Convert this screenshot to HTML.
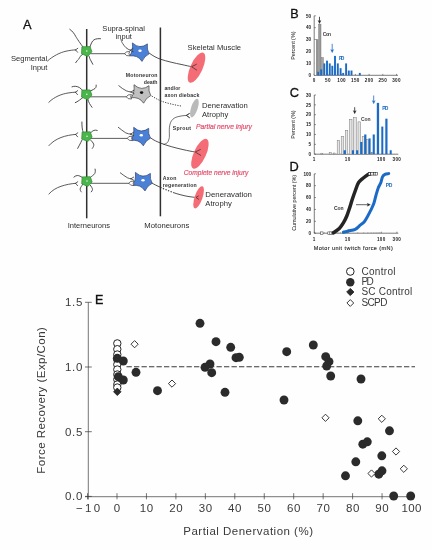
<!DOCTYPE html>
<html lang="en"><head><meta charset="utf-8"><title>Figure</title>
<style>
html,body{margin:0;padding:0;background:#fff;}
body{width:432px;height:550px;overflow:hidden;font-family:"Liberation Sans",Arial,sans-serif;}
svg{display:block;}
</style></head><body>
<svg width="432" height="550" viewBox="0 0 432 550">
<rect width="432" height="550" fill="#fefefe"/>
<g id="panelA">
<text x="23" y="28.5" font-family="Liberation Sans, Arial, sans-serif" font-size="12.8" fill="#111" stroke="#111" stroke-width="0.3">A</text>
<line x1="86.7" y1="29" x2="86.7" y2="218.3" stroke="#303030" stroke-width="1.5"/>
<line x1="160.4" y1="27.5" x2="160.4" y2="216.3" stroke="#303030" stroke-width="1.5"/>
<g transform="translate(86.5,51)">
<path d="M-3,-3.3 C-5,-6 -6.5,-8 -7.5,-9.5 C-9.5,-12.5 -9.8,-13 -10.8,-14.6 C-12,-16.8 -13.5,-19.5 -16.7,-21.7" stroke="#444" stroke-width="0.95" fill="none" stroke-linecap="round" stroke-linejoin="round" />
<path d="M3.2,-3.5 C4.5,-7 5.5,-10 7.5,-11.2 C9.5,-12.3 12,-12.5 14,-12.3" stroke="#444" stroke-width="0.95" fill="none" stroke-linecap="round" stroke-linejoin="round" />
<path d="M-3.8,3.3 C-5,4.5 -6.5,5 -6.9,6.5 C-7.3,8 -8.5,8.5 -9,9.3 C-9.7,10.3 -10.3,11 -10.8,11.7" stroke="#444" stroke-width="0.95" fill="none" stroke-linecap="round" stroke-linejoin="round" />
<path d="M2.5,5 C3,6.5 3.2,7.5 3.7,8.4 C4.6,10.2 5.5,12 6.3,13.3" stroke="#444" stroke-width="0.95" fill="none" stroke-linecap="round" stroke-linejoin="round" />
</g>
<path d="M47.5,61 C53,56 60,52.5 66,51.2 C70,50.3 73,50 75.6,49.9" stroke="#333" stroke-width="0.8" fill="none" stroke-linecap="round" stroke-linejoin="round" />
<path d="M75.6,49.9 l2.2,-1.6 M75.6,49.9 l2,2.4" stroke="#333" stroke-width="0.8" fill="none" stroke-linecap="round" stroke-linejoin="round" />
<path d="M90.5,53.7 L126.3,53.7" stroke="#333" stroke-width="0.8" fill="none" stroke-linecap="round" stroke-linejoin="round" />
<path d="M-4.6,-4.2 L3.6,-4.4 L5.4,0.8 L1.2,5.4 L-5,2.8Z" transform="translate(86.5,51)" fill="#4ab54a" stroke="#2f8a2f" stroke-width="0.7" stroke-linejoin="round"/>
<circle cx="86.8" cy="51" r="0.75" fill="#eaffea"/>
<g transform="translate(86.5,94.3)">
<path d="M-3.3,-3.3 C-4.5,-4.5 -5.5,-5.8 -7,-6.7 C-8.5,-7.6 -10,-8 -11.2,-8 C-12.5,-8 -13.6,-7.8 -14.5,-7.5" stroke="#444" stroke-width="0.95" fill="none" stroke-linecap="round" stroke-linejoin="round" />
<path d="M3.8,-3.3 C5,-4 6.2,-4.3 7.2,-5 C8.3,-5.7 9,-6 9.3,-6.8 C9.7,-7.6 9.8,-8.4 9.7,-9.2" stroke="#444" stroke-width="0.95" fill="none" stroke-linecap="round" stroke-linejoin="round" />
<path d="M-3.7,3.3 C-4.8,4.2 -6,5 -7,5.8 C-8,6.5 -8.8,7 -9.5,7.5 C-10.2,7.9 -10.7,8.1 -11.2,8.3" stroke="#444" stroke-width="0.95" fill="none" stroke-linecap="round" stroke-linejoin="round" />
<path d="M1.3,5 C1.8,6.5 2.3,8 3,9.2 C3.8,10.6 4.6,11.8 5.5,13" stroke="#444" stroke-width="0.95" fill="none" stroke-linecap="round" stroke-linejoin="round" />
</g>
<path d="M48.8,102.3 C52,99 55,97.5 58,96 C62,94.2 65,93.5 68,93 C71,92.5 73.5,92.3 75.5,92.2" stroke="#333" stroke-width="0.8" fill="none" stroke-linecap="round" stroke-linejoin="round" />
<path d="M75.5,92.2 l2.2,-1.6 M75.5,92.2 l2,2.4" stroke="#333" stroke-width="0.8" fill="none" stroke-linecap="round" stroke-linejoin="round" />
<path d="M90.5,96.8 L128,96.8" stroke="#333" stroke-width="0.8" fill="none" stroke-linecap="round" stroke-linejoin="round" />
<path d="M-4.6,-4.2 L3.6,-4.4 L5.4,0.8 L1.2,5.4 L-5,2.8Z" transform="translate(86.5,94.3)" fill="#4ab54a" stroke="#2f8a2f" stroke-width="0.7" stroke-linejoin="round"/>
<circle cx="86.8" cy="94.3" r="0.75" fill="#eaffea"/>
<g transform="translate(86.7,136.2)">
<path d="M-3.3,-3.3 C-4,-5 -4.3,-6.5 -4.5,-8.3 C-4.7,-10.3 -4.9,-12.3 -4.8,-14.2" stroke="#444" stroke-width="0.95" fill="none" stroke-linecap="round" stroke-linejoin="round" />
<path d="M3.8,-3.3 C5,-4.3 6,-5.4 7.2,-5.8 C8.3,-6.2 9.5,-6.1 10.5,-5.8" stroke="#444" stroke-width="0.95" fill="none" stroke-linecap="round" stroke-linejoin="round" />
<path d="M-4.5,3.5 C-5.5,5.5 -6.5,7.5 -7.3,9 C-8,10.3 -8.5,11.3 -9,12.2" stroke="#444" stroke-width="0.95" fill="none" stroke-linecap="round" stroke-linejoin="round" />
<path d="M3.5,3.5 C5,5 6.5,6.5 7,8 C7.4,9.5 6.5,11 5.6,12.2" stroke="#444" stroke-width="0.95" fill="none" stroke-linecap="round" stroke-linejoin="round" />
</g>
<path d="M48.9,145.6 C52,142 56,139.5 61,137.5 C66,135.6 71,134.8 75.6,134.4" stroke="#333" stroke-width="0.8" fill="none" stroke-linecap="round" stroke-linejoin="round" />
<path d="M75.6,134.4 l2.2,-1.6 M75.6,134.4 l2,2.4" stroke="#333" stroke-width="0.8" fill="none" stroke-linecap="round" stroke-linejoin="round" />
<path d="M90.7,138.4 L128.9,138.4" stroke="#333" stroke-width="0.8" fill="none" stroke-linecap="round" stroke-linejoin="round" />
<path d="M-4.6,-4.2 L3.6,-4.4 L5.4,0.8 L1.2,5.4 L-5,2.8Z" transform="translate(86.7,136.2)" fill="#4ab54a" stroke="#2f8a2f" stroke-width="0.7" stroke-linejoin="round"/>
<circle cx="87.0" cy="136.2" r="0.75" fill="#eaffea"/>
<g transform="translate(86.7,181.1)">
<path d="M-3.8,-3.3 C-5.5,-4.5 -8,-5.8 -9.5,-5.6 C-11,-5.4 -12,-4.7 -12.8,-4" stroke="#444" stroke-width="0.95" fill="none" stroke-linecap="round" stroke-linejoin="round" />
<path d="M3.5,-3.5 C5,-5 7,-6 8,-7.5 C8.8,-9 8.7,-10.5 8.4,-12" stroke="#444" stroke-width="0.95" fill="none" stroke-linecap="round" stroke-linejoin="round" />
<path d="M-4,3.3 C-5,5 -6.3,6.3 -6.5,7.8 C-6.7,9 -6,10 -5.4,10.8" stroke="#444" stroke-width="0.95" fill="none" stroke-linecap="round" stroke-linejoin="round" />
<path d="M3.5,4 C4.5,5.5 5.8,7 5.8,8.3 C5.8,9.3 5.2,10.2 4.6,10.8" stroke="#444" stroke-width="0.95" fill="none" stroke-linecap="round" stroke-linejoin="round" />
</g>
<path d="M48.9,194 C52,190.5 56,188 61,186.3 C66,184.6 71,183.7 75.6,183.3" stroke="#333" stroke-width="0.8" fill="none" stroke-linecap="round" stroke-linejoin="round" />
<path d="M75.6,183.3 l2.2,-1.6 M75.6,183.3 l2,2.4" stroke="#333" stroke-width="0.8" fill="none" stroke-linecap="round" stroke-linejoin="round" />
<path d="M90.7,183.3 L130.5,183.3" stroke="#333" stroke-width="0.8" fill="none" stroke-linecap="round" stroke-linejoin="round" />
<path d="M-4.6,-4.2 L3.6,-4.4 L5.4,0.8 L1.2,5.4 L-5,2.8Z" transform="translate(86.7,181.1)" fill="#4ab54a" stroke="#2f8a2f" stroke-width="0.7" stroke-linejoin="round"/>
<circle cx="87.0" cy="181.1" r="0.75" fill="#eaffea"/>
<path d="M121,39.3 C121.3,41 121.8,42.3 122.7,43.5 C123.6,45 124.6,46.4 126,47.7 C127.3,48.8 128.8,49.7 130.2,50.2" stroke="#333" stroke-width="0.8" fill="none" stroke-linecap="round" stroke-linejoin="round" />
<path d="M118.8,85.7 C121,87.5 123.5,89.5 126.3,90.8 C128,91.5 129.7,91.9 131,92" stroke="#333" stroke-width="0.8" fill="none" stroke-linecap="round" stroke-linejoin="round" />
<path d="M118.3,127.3 C120.5,129 123,131.2 125.8,132.9 C127.5,133.7 129.2,134 130.6,134.1" stroke="#333" stroke-width="0.8" fill="none" stroke-linecap="round" stroke-linejoin="round" />
<path d="M120.3,172.8 C122.5,174.5 125,176.4 127.5,177.8 C128.8,178.4 130,178.7 130.9,178.8" stroke="#333" stroke-width="0.8" fill="none" stroke-linecap="round" stroke-linejoin="round" />
<path d="M149.5,53.3 C153,56 157,58 160.5,59.2 C167,61.4 175,63.2 182,64.6 C186,65.5 189,66.2 191.6,66.7" stroke="#333" stroke-width="0.85" fill="none" stroke-linecap="round" stroke-linejoin="round" />
<path d="M196.4,64.3 L191.6,66.7 L196.7,70.1" stroke="#333" stroke-width="0.8" fill="none" stroke-linecap="round" stroke-linejoin="round" />
<path d="M151.7,96 C155,98 158,99.7 161,101 C167,103.2 174,104.8 181,106" stroke="#444" stroke-width="1" fill="none" stroke-dasharray="1.2,1.3"/>
<path d="M150.8,138 C154,140.5 157,141.6 160.4,143 C167,145.6 175,147.8 183,149.6 C188,150.7 192,151.5 195.2,152" stroke="#333" stroke-width="0.85" fill="none" stroke-linecap="round" stroke-linejoin="round" />
<path d="M200.4,149.5 L195.2,152 L200.7,155.3" stroke="#333" stroke-width="0.8" fill="none" stroke-linecap="round" stroke-linejoin="round" />
<path d="M163.9,144.4 C166,143.8 167.5,142.8 168,141.7 C169,139.5 169.4,138 169.4,136.1 C169.4,133 169.2,130 169.4,127.8 C169.7,125 170.3,122.5 171.5,120.8 C173,118.7 175,117.4 177.8,116.7 C180.5,116 183.5,115.5 186.3,115.4" stroke="#333" stroke-width="0.7" fill="none" stroke-linecap="round" stroke-linejoin="round" />
<path d="M189.3,113.6 L186.3,115.4 L189.4,117.6" stroke="#333" stroke-width="0.7" fill="none" stroke-linecap="round" stroke-linejoin="round" />
<path d="M151.5,182.8 C154,184.3 157,185.8 160.4,187.3" stroke="#333" stroke-width="0.85" fill="none" stroke-linecap="round" stroke-linejoin="round" />
<path d="M160.4,187.3 C164,188.9 168,190.6 173.3,192.6" stroke="#333" stroke-width="1.1" fill="none" stroke-dasharray="1.3,1.5"/>
<path d="M173.3,192.6 C178,194.2 184,195.8 189,196.6 C192,197 194,197.3 196,197.4" stroke="#333" stroke-width="0.85" fill="none" stroke-linecap="round" stroke-linejoin="round" />
<path d="M198.4,196 L196,197.4 L198.7,199.3" stroke="#333" stroke-width="0.8" fill="none" stroke-linecap="round" stroke-linejoin="round" />
<path d="M-7.6,-7.9 Q-3.5,-4.2 0,-4.2 Q4,-4.2 7.4,-6.9 Q6.6,-1.5 9.2,3 Q4.5,5 2,10.6 Q-0.5,6.8 -3.5,5.8 Q-6.5,4.8 -10.2,5 Q-6.8,0 -7.6,-7.9Z" transform="translate(140,50.8)" fill="#4a80d6" stroke="#2a3f70" stroke-width="0.7" stroke-linejoin="round"/>
<ellipse cx="140" cy="50.8" rx="1.7" ry="1.3" fill="#fff"/>
<path d="M-7.6,-7.9 Q-3.5,-4.2 0,-4.2 Q4,-4.2 7.4,-6.9 Q6.6,-1.5 9.2,3 Q4.5,5 2,10.6 Q-0.5,6.8 -3.5,5.8 Q-6.5,4.8 -10.2,5 Q-6.8,0 -7.6,-7.9Z" transform="translate(141.6,92.6)" fill="#c0c0c0" stroke="#3c3c3c" stroke-width="0.7" stroke-linejoin="round"/>
<ellipse cx="141.6" cy="92.6" rx="1.7" ry="1.3" fill="#111"/>
<path d="M-7.6,-7.9 Q-3.5,-4.2 0,-4.2 Q4,-4.2 7.4,-6.9 Q6.6,-1.5 9.2,3 Q4.5,5 2,10.6 Q-0.5,6.8 -3.5,5.8 Q-6.5,4.8 -10.2,5 Q-6.8,0 -7.6,-7.9Z" transform="translate(141.3,135.2)" fill="#4a80d6" stroke="#2a3f70" stroke-width="0.7" stroke-linejoin="round"/>
<ellipse cx="141.3" cy="135.2" rx="1.7" ry="1.3" fill="#fff"/>
<path d="M-7.6,-7.9 Q-3.5,-4.2 0,-4.2 Q4,-4.2 7.4,-6.9 Q6.6,-1.5 9.2,3 Q4.5,5 2,10.6 Q-0.5,6.8 -3.5,5.8 Q-6.5,4.8 -10.2,5 Q-6.8,0 -7.6,-7.9Z" transform="translate(143,180.3)" fill="#4a80d6" stroke="#2a3f70" stroke-width="0.7" stroke-linejoin="round"/>
<ellipse cx="143" cy="180.3" rx="1.7" ry="1.3" fill="#fff"/>
<path d="M124.7,53.7 q0.8,-2.6 5,-2.2 q-1.6,2.2 0.2,4.4 q-4.2,0.4 -5.2,-2.2z" fill="#fff" stroke="#333" stroke-width="0.7" stroke-linejoin="round"/>
<path d="M126.4,96.8 q0.8,-2.6 5,-2.2 q-1.6,2.2 0.2,4.4 q-4.2,0.4 -5.2,-2.2z" fill="#fff" stroke="#333" stroke-width="0.7" stroke-linejoin="round"/>
<path d="M127.30000000000001,138.4 q0.8,-2.6 5,-2.2 q-1.6,2.2 0.2,4.4 q-4.2,0.4 -5.2,-2.2z" fill="#fff" stroke="#333" stroke-width="0.7" stroke-linejoin="round"/>
<path d="M128.9,183.3 q0.8,-2.6 5,-2.2 q-1.6,2.2 0.2,4.4 q-4.2,0.4 -5.2,-2.2z" fill="#fff" stroke="#333" stroke-width="0.7" stroke-linejoin="round"/>
<path d="M130.2,50.2 l2.8,-1.7 M130.2,50.2 l3,1.5" stroke="#333" stroke-width="0.8" fill="none" stroke-linecap="round" stroke-linejoin="round" />
<path d="M131,92 l2.8,-1.7 M131,92 l3,1.5" stroke="#333" stroke-width="0.8" fill="none" stroke-linecap="round" stroke-linejoin="round" />
<path d="M130.6,134.1 l2.8,-1.7 M130.6,134.1 l3,1.5" stroke="#333" stroke-width="0.8" fill="none" stroke-linecap="round" stroke-linejoin="round" />
<path d="M130.9,178.8 l2.8,-1.7 M130.9,178.8 l3,1.5" stroke="#333" stroke-width="0.8" fill="none" stroke-linecap="round" stroke-linejoin="round" />
<ellipse cx="196.5" cy="67.7" rx="6.1" ry="16.4" fill="#f46c76" transform="rotate(24.5 196.5 67.7)"/>
<ellipse cx="194.4" cy="108.1" rx="3.3" ry="9.7" fill="#bababa" transform="rotate(18 194.4 108.1)"/>
<ellipse cx="199.9" cy="153.8" rx="6.1" ry="16.2" fill="#f46c76" transform="rotate(24.5 199.9 153.8)"/>
<ellipse cx="198.6" cy="197.3" rx="3.9" ry="11.7" fill="#f46c76" transform="rotate(19 198.6 197.3)"/>
<path d="M196.4,64.3 L191.6,66.7 L196.7,70.1" stroke="#433" stroke-width="0.8" fill="none" stroke-linecap="round" stroke-linejoin="round" />
<path d="M200.4,149.5 L195.2,152 L200.7,155.3" stroke="#433" stroke-width="0.8" fill="none" stroke-linecap="round" stroke-linejoin="round" />
<path d="M198.4,196 L196,197.4 L198.7,199.3" stroke="#433" stroke-width="0.8" fill="none" stroke-linecap="round" stroke-linejoin="round" />
<path d="M189.3,113.6 L186.3,115.4 L189.4,117.6" stroke="#333" stroke-width="0.7" fill="none" stroke-linecap="round" stroke-linejoin="round" />
<text x="102.35" y="30.7" font-family="Liberation Sans, Arial, sans-serif" font-size="7.9" fill="#2c2c2c" textLength="42.5" lengthAdjust="spacingAndGlyphs" >Supra-spinal</text>
<text x="115.7" y="38.6" font-family="Liberation Sans, Arial, sans-serif" font-size="7.9" fill="#2c2c2c" textLength="16.2" lengthAdjust="spacingAndGlyphs" >input</text>
<text x="10.9" y="60.8" font-family="Liberation Sans, Arial, sans-serif" font-size="7.9" fill="#2c2c2c" textLength="36.4" lengthAdjust="spacingAndGlyphs" >Segmental</text>
<text x="30.7" y="69.7" font-family="Liberation Sans, Arial, sans-serif" font-size="7.9" fill="#2c2c2c" textLength="16.7" lengthAdjust="spacingAndGlyphs" >Input</text>
<text x="187.6" y="49.8" font-family="Liberation Sans, Arial, sans-serif" font-size="7.9" fill="#2c2c2c" textLength="53.5" lengthAdjust="spacingAndGlyphs" >Skeletal Muscle</text>
<text x="125.8" y="77.1" font-family="Liberation Sans, Arial, sans-serif" font-size="5.2" fill="#333" font-weight="bold" textLength="31.7" lengthAdjust="spacing" >Motoneuron</text>
<text x="143.8" y="84" font-family="Liberation Sans, Arial, sans-serif" font-size="5.2" fill="#333" font-weight="bold" textLength="13.7" lengthAdjust="spacing" >death</text>
<text x="164.4" y="90.4" font-family="Liberation Sans, Arial, sans-serif" font-size="5.2" fill="#333" font-weight="bold" textLength="16" lengthAdjust="spacing" >and/or</text>
<text x="164.4" y="96.8" font-family="Liberation Sans, Arial, sans-serif" font-size="5.2" fill="#333" font-weight="bold" textLength="34.9" lengthAdjust="spacing" >axon dieback</text>
<text x="202" y="108.4" font-family="Liberation Sans, Arial, sans-serif" font-size="8.1" fill="#2c2c2c" textLength="45.8" lengthAdjust="spacingAndGlyphs" >Deneravation</text>
<text x="202" y="116.9" font-family="Liberation Sans, Arial, sans-serif" font-size="8.1" fill="#2c2c2c" textLength="26.2" lengthAdjust="spacingAndGlyphs" >Atrophy</text>
<text x="172.7" y="130" font-family="Liberation Sans, Arial, sans-serif" font-size="5.2" fill="#333" font-weight="bold" textLength="18.4" lengthAdjust="spacing" >Sprout</text>
<text x="196" y="128.9" font-family="Liberation Sans, Arial, sans-serif" font-size="7" fill="#e0506e" font-style="italic" textLength="56" lengthAdjust="spacingAndGlyphs" stroke="#e0506e" stroke-width="0.2">Partial nerve injury</text>
<text x="183.8" y="175.1" font-family="Liberation Sans, Arial, sans-serif" font-size="7" fill="#e0506e" font-style="italic" textLength="64.4" lengthAdjust="spacingAndGlyphs" stroke="#e0506e" stroke-width="0.2">Complete nerve injury</text>
<text x="162.7" y="180.4" font-family="Liberation Sans, Arial, sans-serif" font-size="5.2" fill="#333" font-weight="bold" textLength="13.7" lengthAdjust="spacing" >Axon</text>
<text x="162.7" y="186.7" font-family="Liberation Sans, Arial, sans-serif" font-size="5.2" fill="#333" font-weight="bold" textLength="34" lengthAdjust="spacing" >regeneration</text>
<text x="205.3" y="196.9" font-family="Liberation Sans, Arial, sans-serif" font-size="8.1" fill="#2c2c2c" textLength="46.7" lengthAdjust="spacingAndGlyphs" >Deneravation</text>
<text x="205.3" y="205.8" font-family="Liberation Sans, Arial, sans-serif" font-size="8.1" fill="#2c2c2c" textLength="26.5" lengthAdjust="spacingAndGlyphs" >Atrophy</text>
<text x="67.7" y="228.3" font-family="Liberation Sans, Arial, sans-serif" font-size="7.9" fill="#2c2c2c" textLength="42.3" lengthAdjust="spacingAndGlyphs" >Interneurons</text>
<text x="144.3" y="228.3" font-family="Liberation Sans, Arial, sans-serif" font-size="7.9" fill="#2c2c2c" textLength="45" lengthAdjust="spacingAndGlyphs" >Motoneurons</text>
</g>
<g id="panelB">
<text x="290.2" y="18.3" font-family="Liberation Sans, Arial, sans-serif" font-size="12.6" fill="#111" stroke="#111" stroke-width="0.3">B</text>
<path d="M314.2,15.8 V75.3 H398" stroke="#444" stroke-width="0.7" fill="none"/>
<line x1="314.2" y1="75.30" x2="315.9" y2="75.30" stroke="#444" stroke-width="0.6"/>
<text x="311.0" y="77.0" font-family="Liberation Sans, Arial, sans-serif" font-size="4.6" fill="#222" font-weight="bold" text-anchor="end" >0</text>
<line x1="314.2" y1="63.40" x2="315.9" y2="63.40" stroke="#444" stroke-width="0.6"/>
<text x="311.0" y="65.1" font-family="Liberation Sans, Arial, sans-serif" font-size="4.6" fill="#222" font-weight="bold" text-anchor="end" >10</text>
<line x1="314.2" y1="51.50" x2="315.9" y2="51.50" stroke="#444" stroke-width="0.6"/>
<text x="311.0" y="53.2" font-family="Liberation Sans, Arial, sans-serif" font-size="4.6" fill="#222" font-weight="bold" text-anchor="end" >20</text>
<line x1="314.2" y1="39.60" x2="315.9" y2="39.60" stroke="#444" stroke-width="0.6"/>
<text x="311.0" y="41.3" font-family="Liberation Sans, Arial, sans-serif" font-size="4.6" fill="#222" font-weight="bold" text-anchor="end" >30</text>
<line x1="314.2" y1="27.70" x2="315.9" y2="27.70" stroke="#444" stroke-width="0.6"/>
<text x="311.0" y="29.4" font-family="Liberation Sans, Arial, sans-serif" font-size="4.6" fill="#222" font-weight="bold" text-anchor="end" >40</text>
<line x1="314.2" y1="15.80" x2="315.9" y2="15.80" stroke="#444" stroke-width="0.6"/>
<text x="311.0" y="17.5" font-family="Liberation Sans, Arial, sans-serif" font-size="4.6" fill="#222" font-weight="bold" text-anchor="end" >50</text>
<line x1="314.20" y1="75.3" x2="314.20" y2="73.89999999999999" stroke="#444" stroke-width="0.6"/>
<text x="314.2" y="81.7" font-family="Liberation Sans, Arial, sans-serif" font-size="4.6" fill="#222" font-weight="bold" text-anchor="middle" letter-spacing="0.3">0</text>
<line x1="327.92" y1="75.3" x2="327.92" y2="73.89999999999999" stroke="#444" stroke-width="0.6"/>
<text x="327.92" y="81.7" font-family="Liberation Sans, Arial, sans-serif" font-size="4.6" fill="#222" font-weight="bold" text-anchor="middle" letter-spacing="0.3">50</text>
<line x1="341.64" y1="75.3" x2="341.64" y2="73.89999999999999" stroke="#444" stroke-width="0.6"/>
<text x="341.64" y="81.7" font-family="Liberation Sans, Arial, sans-serif" font-size="4.6" fill="#222" font-weight="bold" text-anchor="middle" letter-spacing="0.3">100</text>
<line x1="355.36" y1="75.3" x2="355.36" y2="73.89999999999999" stroke="#444" stroke-width="0.6"/>
<text x="355.36" y="81.7" font-family="Liberation Sans, Arial, sans-serif" font-size="4.6" fill="#222" font-weight="bold" text-anchor="middle" letter-spacing="0.3">150</text>
<line x1="369.08" y1="75.3" x2="369.08" y2="73.89999999999999" stroke="#444" stroke-width="0.6"/>
<text x="369.08" y="81.7" font-family="Liberation Sans, Arial, sans-serif" font-size="4.6" fill="#222" font-weight="bold" text-anchor="middle" letter-spacing="0.3">200</text>
<line x1="382.80" y1="75.3" x2="382.80" y2="73.89999999999999" stroke="#444" stroke-width="0.6"/>
<text x="382.8" y="81.7" font-family="Liberation Sans, Arial, sans-serif" font-size="4.6" fill="#222" font-weight="bold" text-anchor="middle" letter-spacing="0.3">250</text>
<line x1="396.52" y1="75.3" x2="396.52" y2="73.89999999999999" stroke="#444" stroke-width="0.6"/>
<text x="396.52" y="81.7" font-family="Liberation Sans, Arial, sans-serif" font-size="4.6" fill="#222" font-weight="bold" text-anchor="middle" letter-spacing="0.3">300</text>
<text x="-14.15" y="0" font-family="Liberation Sans, Arial, sans-serif" font-size="5.5" fill="#222" textLength="28.3" lengthAdjust="spacing" transform="translate(295.3,45.6) rotate(-90)">Percent (%)</text>
<rect x="314.50" y="39.60" width="1.90" height="35.70" fill="#fff" stroke="#777" stroke-width="0.4"/>
<rect x="316.40" y="39.60" width="1.60" height="35.70" fill="#999" stroke="#777" stroke-width="0.4"/>
<rect x="318.60" y="24.13" width="2.40" height="51.17" fill="#9a9a9a" stroke="#666" stroke-width="0.4"/>
<rect x="321.40" y="57.45" width="2.10" height="17.85" fill="#a5a5a5" stroke="#777" stroke-width="0.4"/>
<rect x="317.25" y="71.73" width="1.90" height="3.57" fill="#1b6bc6"/>
<rect x="320.25" y="69.35" width="1.90" height="5.95" fill="#1b6bc6"/>
<rect x="323.35" y="63.40" width="1.90" height="11.90" fill="#1b6bc6"/>
<rect x="326.05" y="60.66" width="1.90" height="14.64" fill="#1b6bc6"/>
<rect x="328.80" y="63.40" width="1.90" height="11.90" fill="#1b6bc6"/>
<rect x="331.35" y="65.78" width="1.90" height="9.52" fill="#1b6bc6"/>
<rect x="334.05" y="55.90" width="1.90" height="19.40" fill="#1b6bc6"/>
<rect x="336.85" y="63.40" width="1.90" height="11.90" fill="#1b6bc6"/>
<rect x="339.65" y="68.16" width="1.90" height="7.14" fill="#1b6bc6"/>
<rect x="342.25" y="72.92" width="1.90" height="2.38" fill="#1b6bc6"/>
<rect x="345.15" y="63.40" width="1.90" height="11.90" fill="#1b6bc6"/>
<rect x="347.85" y="70.54" width="1.90" height="4.76" fill="#1b6bc6"/>
<rect x="350.55" y="70.54" width="1.90" height="4.76" fill="#1b6bc6"/>
<rect x="358.85" y="72.92" width="1.90" height="2.38" fill="#1b6bc6"/>
<path d="M319.5,16.8 V22.1" stroke="#222" stroke-width="0.8" fill="none"/>
<path d="M318.0,20.400000000000002 L319.5,23.6 L321.0,20.400000000000002 L319.5,21.200000000000003Z" fill="#222" stroke="#222" stroke-width="0.3"/>
<path d="M332.2,43.8 V51.2" stroke="#1b6bc6" stroke-width="0.8" fill="none"/>
<path d="M330.7,49.5 L332.2,52.7 L333.7,49.5 L332.2,50.300000000000004Z" fill="#1b6bc6" stroke="#1b6bc6" stroke-width="0.3"/>
<text x="322.7" y="35.6" font-family="Liberation Sans, Arial, sans-serif" font-size="5" fill="#444" font-weight="bold" textLength="8.4" lengthAdjust="spacing" >Con</text>
<text x="339" y="59.8" font-family="Liberation Sans, Arial, sans-serif" font-size="5" fill="#1b6bc6" font-weight="bold" textLength="5.4" lengthAdjust="spacing" >PD</text>
</g>
<g id="panelC">
<text x="289.8" y="96.6" font-family="Liberation Sans, Arial, sans-serif" font-size="12.8" fill="#111" stroke="#111" stroke-width="0.3">C</text>
<path d="M314.3,95 V154.2 H398.3" stroke="#444" stroke-width="0.7" fill="none"/>
<line x1="314.3" y1="154.20" x2="316.0" y2="154.20" stroke="#444" stroke-width="0.6"/>
<text x="311.1" y="155.9" font-family="Liberation Sans, Arial, sans-serif" font-size="4.6" fill="#222" font-weight="bold" text-anchor="end" >0</text>
<line x1="314.3" y1="144.33" x2="316.0" y2="144.33" stroke="#444" stroke-width="0.6"/>
<text x="311.1" y="146.03" font-family="Liberation Sans, Arial, sans-serif" font-size="4.6" fill="#222" font-weight="bold" text-anchor="end" >5</text>
<line x1="314.3" y1="134.47" x2="316.0" y2="134.47" stroke="#444" stroke-width="0.6"/>
<text x="311.1" y="136.17" font-family="Liberation Sans, Arial, sans-serif" font-size="4.6" fill="#222" font-weight="bold" text-anchor="end" >10</text>
<line x1="314.3" y1="124.60" x2="316.0" y2="124.60" stroke="#444" stroke-width="0.6"/>
<text x="311.1" y="126.3" font-family="Liberation Sans, Arial, sans-serif" font-size="4.6" fill="#222" font-weight="bold" text-anchor="end" >15</text>
<line x1="314.3" y1="114.73" x2="316.0" y2="114.73" stroke="#444" stroke-width="0.6"/>
<text x="311.1" y="116.43" font-family="Liberation Sans, Arial, sans-serif" font-size="4.6" fill="#222" font-weight="bold" text-anchor="end" >20</text>
<line x1="314.3" y1="104.87" x2="316.0" y2="104.87" stroke="#444" stroke-width="0.6"/>
<text x="311.1" y="106.57" font-family="Liberation Sans, Arial, sans-serif" font-size="4.6" fill="#222" font-weight="bold" text-anchor="end" >25</text>
<line x1="314.3" y1="95.00" x2="316.0" y2="95.00" stroke="#444" stroke-width="0.6"/>
<text x="311.1" y="96.7" font-family="Liberation Sans, Arial, sans-serif" font-size="4.6" fill="#222" font-weight="bold" text-anchor="end" >30</text>
<text x="314.3" y="161.2" font-family="Liberation Sans, Arial, sans-serif" font-size="4.6" fill="#222" font-weight="bold" text-anchor="middle" letter-spacing="0.3">1</text>
<text x="347.7" y="161.2" font-family="Liberation Sans, Arial, sans-serif" font-size="4.6" fill="#222" font-weight="bold" text-anchor="middle" letter-spacing="0.3">10</text>
<text x="381.3" y="161.2" font-family="Liberation Sans, Arial, sans-serif" font-size="4.6" fill="#222" font-weight="bold" text-anchor="middle" letter-spacing="0.3">100</text>
<text x="396.9" y="161.2" font-family="Liberation Sans, Arial, sans-serif" font-size="4.6" fill="#222" font-weight="bold" text-anchor="middle" letter-spacing="0.3">300</text>
<text x="-14.15" y="0" font-family="Liberation Sans, Arial, sans-serif" font-size="5.5" fill="#222" textLength="28.3" lengthAdjust="spacing" transform="translate(295.3,124.5) rotate(-90)">Percent (%)</text>
<rect x="320.80" y="153.21" width="2.00" height="0.99" fill="#e4e4e4" stroke="#7a7a7a" stroke-width="0.5"/>
<rect x="329.20" y="152.62" width="2.00" height="1.58" fill="#e4e4e4" stroke="#7a7a7a" stroke-width="0.5"/>
<rect x="333.20" y="153.02" width="1.80" height="1.18" fill="#e4e4e4" stroke="#7a7a7a" stroke-width="0.5"/>
<rect x="337.20" y="140.39" width="2.50" height="13.81" fill="#e4e4e4" stroke="#7a7a7a" stroke-width="0.5"/>
<rect x="341.20" y="136.44" width="2.60" height="17.76" fill="#e4e4e4" stroke="#7a7a7a" stroke-width="0.5"/>
<rect x="345.30" y="130.52" width="2.50" height="23.68" fill="#e4e4e4" stroke="#7a7a7a" stroke-width="0.5"/>
<rect x="349.30" y="119.27" width="2.70" height="34.93" fill="#e4e4e4" stroke="#7a7a7a" stroke-width="0.5"/>
<rect x="353.30" y="117.69" width="3.00" height="36.51" fill="#e4e4e4" stroke="#7a7a7a" stroke-width="0.5"/>
<rect x="358.00" y="121.84" width="2.70" height="32.36" fill="#e4e4e4" stroke="#7a7a7a" stroke-width="0.5"/>
<rect x="362.20" y="136.44" width="2.10" height="17.76" fill="#e4e4e4" stroke="#7a7a7a" stroke-width="0.5"/>
<rect x="366.30" y="139.40" width="2.20" height="14.80" fill="#e4e4e4" stroke="#7a7a7a" stroke-width="0.5"/>
<rect x="371.00" y="152.23" width="1.70" height="1.97" fill="#e4e4e4" stroke="#7a7a7a" stroke-width="0.5"/>
<rect x="343.60" y="150.25" width="2.30" height="3.95" fill="#1b6bc6"/>
<rect x="351.90" y="150.25" width="2.10" height="3.95" fill="#1b6bc6"/>
<rect x="356.10" y="150.25" width="2.10" height="3.95" fill="#1b6bc6"/>
<rect x="360.20" y="141.97" width="2.20" height="12.23" fill="#1b6bc6"/>
<rect x="364.20" y="134.47" width="2.20" height="19.73" fill="#1b6bc6"/>
<rect x="368.50" y="138.41" width="2.10" height="15.79" fill="#1b6bc6"/>
<rect x="372.70" y="134.47" width="2.10" height="19.73" fill="#1b6bc6"/>
<rect x="376.80" y="102.89" width="2.30" height="51.31" fill="#1b6bc6"/>
<rect x="381.30" y="126.57" width="2.00" height="27.63" fill="#1b6bc6"/>
<rect x="385.30" y="118.68" width="2.20" height="35.52" fill="#1b6bc6"/>
<rect x="389.70" y="150.25" width="2.00" height="3.95" fill="#1b6bc6"/>
<path d="M354.7,107.2 V112.3" stroke="#222" stroke-width="0.8" fill="none"/>
<path d="M353.2,110.6 L354.7,113.8 L356.2,110.6 L354.7,111.39999999999999Z" fill="#222" stroke="#222" stroke-width="0.3"/>
<path d="M373.7,95.5 V102.3" stroke="#1b6bc6" stroke-width="0.8" fill="none"/>
<path d="M372.2,100.6 L373.7,103.8 L375.2,100.6 L373.7,101.39999999999999Z" fill="#1b6bc6" stroke="#1b6bc6" stroke-width="0.3"/>
<text x="361" y="121.1" font-family="Liberation Sans, Arial, sans-serif" font-size="5" fill="#444" font-weight="bold" textLength="9.6" lengthAdjust="spacing" >Con</text>
<text x="382.2" y="109.8" font-family="Liberation Sans, Arial, sans-serif" font-size="5" fill="#1b6bc6" font-weight="bold" textLength="6.2" lengthAdjust="spacing" >PD</text>
</g>
<g id="panelD">
<text x="289.5" y="171.4" font-family="Liberation Sans, Arial, sans-serif" font-size="12.8" fill="#111" stroke="#111" stroke-width="0.3">D</text>
<path d="M314.3,173.8 V233.2 H398.3" stroke="#444" stroke-width="0.7" fill="none"/>
<line x1="314.3" y1="233.20" x2="316.0" y2="233.20" stroke="#444" stroke-width="0.6"/>
<text x="311.1" y="234.9" font-family="Liberation Sans, Arial, sans-serif" font-size="4.6" fill="#222" font-weight="bold" text-anchor="end" >0</text>
<line x1="314.3" y1="221.32" x2="316.0" y2="221.32" stroke="#444" stroke-width="0.6"/>
<text x="311.1" y="223.02" font-family="Liberation Sans, Arial, sans-serif" font-size="4.6" fill="#222" font-weight="bold" text-anchor="end" >20</text>
<line x1="314.3" y1="209.44" x2="316.0" y2="209.44" stroke="#444" stroke-width="0.6"/>
<text x="311.1" y="211.14" font-family="Liberation Sans, Arial, sans-serif" font-size="4.6" fill="#222" font-weight="bold" text-anchor="end" >40</text>
<line x1="314.3" y1="197.56" x2="316.0" y2="197.56" stroke="#444" stroke-width="0.6"/>
<text x="311.1" y="199.26" font-family="Liberation Sans, Arial, sans-serif" font-size="4.6" fill="#222" font-weight="bold" text-anchor="end" >60</text>
<line x1="314.3" y1="185.68" x2="316.0" y2="185.68" stroke="#444" stroke-width="0.6"/>
<text x="311.1" y="187.38" font-family="Liberation Sans, Arial, sans-serif" font-size="4.6" fill="#222" font-weight="bold" text-anchor="end" >80</text>
<line x1="314.3" y1="173.80" x2="316.0" y2="173.80" stroke="#444" stroke-width="0.6"/>
<text x="311.1" y="175.5" font-family="Liberation Sans, Arial, sans-serif" font-size="4.6" fill="#222" font-weight="bold" text-anchor="end" >100</text>
<line x1="324.41" y1="233.2" x2="324.41" y2="232.29999999999998" stroke="#444" stroke-width="0.4"/>
<line x1="330.33" y1="233.2" x2="330.33" y2="232.29999999999998" stroke="#444" stroke-width="0.4"/>
<line x1="334.53" y1="233.2" x2="334.53" y2="232.29999999999998" stroke="#444" stroke-width="0.4"/>
<line x1="337.79" y1="233.2" x2="337.79" y2="232.29999999999998" stroke="#444" stroke-width="0.4"/>
<line x1="340.45" y1="233.2" x2="340.45" y2="232.29999999999998" stroke="#444" stroke-width="0.4"/>
<line x1="342.70" y1="233.2" x2="342.70" y2="232.29999999999998" stroke="#444" stroke-width="0.4"/>
<line x1="344.64" y1="233.2" x2="344.64" y2="232.29999999999998" stroke="#444" stroke-width="0.4"/>
<line x1="346.36" y1="233.2" x2="346.36" y2="232.29999999999998" stroke="#444" stroke-width="0.4"/>
<line x1="357.81" y1="233.2" x2="357.81" y2="232.29999999999998" stroke="#444" stroke-width="0.4"/>
<line x1="363.73" y1="233.2" x2="363.73" y2="232.29999999999998" stroke="#444" stroke-width="0.4"/>
<line x1="367.93" y1="233.2" x2="367.93" y2="232.29999999999998" stroke="#444" stroke-width="0.4"/>
<line x1="371.19" y1="233.2" x2="371.19" y2="232.29999999999998" stroke="#444" stroke-width="0.4"/>
<line x1="373.85" y1="233.2" x2="373.85" y2="232.29999999999998" stroke="#444" stroke-width="0.4"/>
<line x1="376.10" y1="233.2" x2="376.10" y2="232.29999999999998" stroke="#444" stroke-width="0.4"/>
<line x1="378.04" y1="233.2" x2="378.04" y2="232.29999999999998" stroke="#444" stroke-width="0.4"/>
<line x1="379.76" y1="233.2" x2="379.76" y2="232.29999999999998" stroke="#444" stroke-width="0.4"/>
<text x="314.3" y="240.5" font-family="Liberation Sans, Arial, sans-serif" font-size="4.6" fill="#222" font-weight="bold" text-anchor="middle" letter-spacing="0.3">1</text>
<line x1="314.3" y1="233.2" x2="314.3" y2="231.7" stroke="#444" stroke-width="0.6"/>
<text x="347.7" y="240.5" font-family="Liberation Sans, Arial, sans-serif" font-size="4.6" fill="#222" font-weight="bold" text-anchor="middle" letter-spacing="0.3">10</text>
<line x1="347.7" y1="233.2" x2="347.7" y2="231.7" stroke="#444" stroke-width="0.6"/>
<text x="381.3" y="240.5" font-family="Liberation Sans, Arial, sans-serif" font-size="4.6" fill="#222" font-weight="bold" text-anchor="middle" letter-spacing="0.3">100</text>
<line x1="381.3" y1="233.2" x2="381.3" y2="231.7" stroke="#444" stroke-width="0.6"/>
<text x="396.9" y="240.5" font-family="Liberation Sans, Arial, sans-serif" font-size="4.6" fill="#222" font-weight="bold" text-anchor="middle" letter-spacing="0.3">300</text>
<line x1="396.9" y1="233.2" x2="396.9" y2="231.7" stroke="#444" stroke-width="0.6"/>
<text x="-28.0" y="0" font-family="Liberation Sans, Arial, sans-serif" font-size="5.5" fill="#222" textLength="56" lengthAdjust="spacing" transform="translate(295.8,202.8) rotate(-90)">Cumulative percent (%)</text>
<text x="313.8" y="249.6" font-family="Liberation Sans, Arial, sans-serif" font-size="5.5" fill="#333" textLength="79" lengthAdjust="spacing" stroke="#333" stroke-width="0.15">Motor unit twitch force (mN)</text>
<rect x="320.6" y="231.89999999999998" width="2.4" height="2.4" fill="#fff" stroke="#333" stroke-width="0.5"/>
<rect x="327.8" y="231.89999999999998" width="2.4" height="2.4" fill="#fff" stroke="#333" stroke-width="0.5"/>
<rect x="329.8" y="231.89999999999998" width="2.4" height="2.4" fill="#fff" stroke="#333" stroke-width="0.5"/>
<rect x="331.8" y="231.89999999999998" width="2.4" height="2.4" fill="#fff" stroke="#333" stroke-width="0.5"/>
<path d="M333.5,232.7 C334.47,232.00 337.63,230.17 339.3,228.5 C340.97,226.83 342.25,224.78 343.5,222.7 C344.75,220.62 345.77,218.50 346.8,216 C347.83,213.50 348.78,210.48 349.7,207.7 C350.62,204.92 351.38,202.08 352.3,199.3 C353.22,196.52 354.17,193.77 355.2,191 C356.23,188.23 357.25,184.78 358.5,182.7 C359.75,180.62 361.17,179.83 362.7,178.5 C364.23,177.17 366.45,175.45 367.7,174.7 C368.95,173.95 369.78,174.12 370.2,174" stroke="#242424" stroke-width="3.5" fill="none" stroke-linecap="round" stroke-linejoin="round"/>
<rect x="368.3" y="172.70000000000002" width="2.4" height="2.4" fill="#fff" stroke="#222" stroke-width="0.55"/>
<rect x="370.8" y="172.70000000000002" width="2.4" height="2.4" fill="#fff" stroke="#222" stroke-width="0.55"/>
<rect x="373.3" y="172.70000000000002" width="2.4" height="2.4" fill="#fff" stroke="#222" stroke-width="0.55"/>
<rect x="375.1" y="172.70000000000002" width="2.4" height="2.4" fill="#fff" stroke="#222" stroke-width="0.55"/>
<path d="M343.5,232.2 C344.33,232.00 346.55,231.48 348.5,231 C350.45,230.52 353.25,230.27 355.2,229.3 C357.15,228.33 358.68,226.45 360.2,225.2 C361.72,223.95 363.03,223.33 364.3,221.8 C365.57,220.27 366.72,217.93 367.8,216 C368.88,214.07 369.80,212.28 370.8,210.2 C371.80,208.12 372.97,205.87 373.8,203.5 C374.63,201.13 375.05,198.63 375.8,196 C376.55,193.37 377.47,189.92 378.3,187.7 C379.13,185.48 380.10,184.52 380.8,182.7 C381.50,180.88 381.80,178.20 382.5,176.8 C383.20,175.40 383.97,174.83 385,174.3 C386.03,173.77 388.08,173.72 388.7,173.6" stroke="#1b6bc6" stroke-width="3" fill="none" stroke-linecap="round" stroke-linejoin="round"/>
<circle cx="343.5" cy="232.2" r="1.4" fill="#1b6bc6"/>
<circle cx="348.5" cy="231" r="1.4" fill="#1b6bc6"/>
<path d="M356,204.7 H369" stroke="#222" stroke-width="0.7" fill="none"/><path d="M367.2,203.2 L370.4,204.7 L367.2,206.2 L368,204.7Z" fill="#222" stroke="#222" stroke-width="0.3"/>
<text x="334" y="209.8" font-family="Liberation Sans, Arial, sans-serif" font-size="5" fill="#333" font-weight="bold" textLength="9.5" lengthAdjust="spacing" >Con</text>
<text x="385.8" y="186.9" font-family="Liberation Sans, Arial, sans-serif" font-size="5" fill="#1b6bc6" font-weight="bold" textLength="6.6" lengthAdjust="spacing" >PD</text>
</g>
<g id="panelE">
<path d="M88.3,302.3 V499.5 M85.0,496.7 H412.0" stroke="#3a3a3a" stroke-width="0.7" fill="none"/>
<line x1="85.0" y1="496.40" x2="91.8" y2="496.40" stroke="#3a3a3a" stroke-width="0.7"/>
<text x="65" y="500.4" font-family="Liberation Sans, Arial, sans-serif" font-size="11.5" fill="#3a3a3a" textLength="17.4" lengthAdjust="spacing" >0.0</text>
<line x1="85.0" y1="431.70" x2="91.8" y2="431.70" stroke="#3a3a3a" stroke-width="0.7"/>
<text x="65" y="435.7" font-family="Liberation Sans, Arial, sans-serif" font-size="11.5" fill="#3a3a3a" textLength="17.4" lengthAdjust="spacing" >0.5</text>
<line x1="85.0" y1="367.00" x2="91.8" y2="367.00" stroke="#3a3a3a" stroke-width="0.7"/>
<text x="65" y="371.0" font-family="Liberation Sans, Arial, sans-serif" font-size="11.5" fill="#3a3a3a" textLength="17.4" lengthAdjust="spacing" >1.0</text>
<line x1="85.0" y1="302.30" x2="91.8" y2="302.30" stroke="#3a3a3a" stroke-width="0.7"/>
<text x="65" y="306.3" font-family="Liberation Sans, Arial, sans-serif" font-size="11.5" fill="#3a3a3a" textLength="17.4" lengthAdjust="spacing" >1.5</text>
<line x1="87.55" y1="493.2" x2="87.55" y2="499.3" stroke="#3a3a3a" stroke-width="0.7"/>
<text x="76.05" y="511.6" font-family="Liberation Sans, Arial, sans-serif" font-size="11.5" fill="#3a3a3a" textLength="24" lengthAdjust="spacing" >−10</text>
<line x1="117.00" y1="493.2" x2="117.00" y2="499.3" stroke="#3a3a3a" stroke-width="0.7"/>
<text x="117.0" y="511.6" font-family="Liberation Sans, Arial, sans-serif" font-size="11.5" fill="#3a3a3a" text-anchor="middle" >0</text>
<line x1="146.45" y1="493.2" x2="146.45" y2="499.3" stroke="#3a3a3a" stroke-width="0.7"/>
<text x="139.75" y="511.6" font-family="Liberation Sans, Arial, sans-serif" font-size="11.5" fill="#3a3a3a" textLength="13.4" lengthAdjust="spacing" >10</text>
<line x1="175.90" y1="493.2" x2="175.90" y2="499.3" stroke="#3a3a3a" stroke-width="0.7"/>
<text x="169.2" y="511.6" font-family="Liberation Sans, Arial, sans-serif" font-size="11.5" fill="#3a3a3a" textLength="13.4" lengthAdjust="spacing" >20</text>
<line x1="205.35" y1="493.2" x2="205.35" y2="499.3" stroke="#3a3a3a" stroke-width="0.7"/>
<text x="198.65" y="511.6" font-family="Liberation Sans, Arial, sans-serif" font-size="11.5" fill="#3a3a3a" textLength="13.4" lengthAdjust="spacing" >30</text>
<line x1="234.80" y1="493.2" x2="234.80" y2="499.3" stroke="#3a3a3a" stroke-width="0.7"/>
<text x="228.1" y="511.6" font-family="Liberation Sans, Arial, sans-serif" font-size="11.5" fill="#3a3a3a" textLength="13.4" lengthAdjust="spacing" >40</text>
<line x1="264.25" y1="493.2" x2="264.25" y2="499.3" stroke="#3a3a3a" stroke-width="0.7"/>
<text x="257.55" y="511.6" font-family="Liberation Sans, Arial, sans-serif" font-size="11.5" fill="#3a3a3a" textLength="13.4" lengthAdjust="spacing" >50</text>
<line x1="293.70" y1="493.2" x2="293.70" y2="499.3" stroke="#3a3a3a" stroke-width="0.7"/>
<text x="287.0" y="511.6" font-family="Liberation Sans, Arial, sans-serif" font-size="11.5" fill="#3a3a3a" textLength="13.4" lengthAdjust="spacing" >60</text>
<line x1="323.15" y1="493.2" x2="323.15" y2="499.3" stroke="#3a3a3a" stroke-width="0.7"/>
<text x="316.45" y="511.6" font-family="Liberation Sans, Arial, sans-serif" font-size="11.5" fill="#3a3a3a" textLength="13.4" lengthAdjust="spacing" >70</text>
<line x1="352.60" y1="493.2" x2="352.60" y2="499.3" stroke="#3a3a3a" stroke-width="0.7"/>
<text x="345.9" y="511.6" font-family="Liberation Sans, Arial, sans-serif" font-size="11.5" fill="#3a3a3a" textLength="13.4" lengthAdjust="spacing" >80</text>
<line x1="382.05" y1="493.2" x2="382.05" y2="499.3" stroke="#3a3a3a" stroke-width="0.7"/>
<text x="375.35" y="511.6" font-family="Liberation Sans, Arial, sans-serif" font-size="11.5" fill="#3a3a3a" textLength="13.4" lengthAdjust="spacing" >90</text>
<line x1="411.50" y1="493.2" x2="411.50" y2="499.3" stroke="#3a3a3a" stroke-width="0.7"/>
<text x="401.6" y="511.6" font-family="Liberation Sans, Arial, sans-serif" font-size="11.5" fill="#3a3a3a" textLength="19.8" lengthAdjust="spacing" >100</text>
<text x="-73.3" y="0" font-family="Liberation Sans, Arial, sans-serif" font-size="11.5" fill="#3a3a3a" textLength="146.6" lengthAdjust="spacing" transform="translate(45.2,400.4) rotate(-90)">Force Recovery (Exp/Con)</text>
<text x="183.3" y="534.5" font-family="Liberation Sans, Arial, sans-serif" font-size="11.5" fill="#3a3a3a" textLength="129.7" lengthAdjust="spacing" >Partial Denervation (%)</text>
<text x="95" y="304.2" font-family="Liberation Sans, Arial, sans-serif" font-size="12.5" fill="#111" stroke="#111" stroke-width="0.35">E</text>
<line x1="126.5" y1="366.7" x2="415" y2="366.7" stroke="#3a3a3a" stroke-width="1.1" stroke-dasharray="5.3,2.2"/>
<circle cx="117.3" cy="343.4" r="3.7" fill="#fff" stroke="#222" stroke-width="1"/>
<circle cx="117.3" cy="349.2" r="3.7" fill="#fff" stroke="#222" stroke-width="1"/>
<circle cx="117.3" cy="354.5" r="3.7" fill="#fff" stroke="#222" stroke-width="1"/>
<circle cx="117.3" cy="359.5" r="3.7" fill="#fff" stroke="#222" stroke-width="1"/>
<circle cx="117.3" cy="364.5" r="3.7" fill="#fff" stroke="#222" stroke-width="1"/>
<circle cx="117.3" cy="369.5" r="3.7" fill="#fff" stroke="#222" stroke-width="1"/>
<circle cx="117.3" cy="374.5" r="3.7" fill="#fff" stroke="#222" stroke-width="1"/>
<circle cx="117.3" cy="379.5" r="3.7" fill="#fff" stroke="#222" stroke-width="1"/>
<circle cx="117.3" cy="384.5" r="3.7" fill="#fff" stroke="#222" stroke-width="1"/>
<circle cx="117.3" cy="387.5" r="3.7" fill="#fff" stroke="#222" stroke-width="1"/>
<circle cx="117.3" cy="358.3" r="4.45" fill="#2b2b2b"/>
<circle cx="123.3" cy="361" r="4.45" fill="#2b2b2b"/>
<circle cx="118.3" cy="376.7" r="4.45" fill="#2b2b2b"/>
<circle cx="123.3" cy="380" r="4.45" fill="#2b2b2b"/>
<circle cx="136" cy="372.3" r="4.45" fill="#2b2b2b"/>
<circle cx="157.5" cy="390.7" r="4.45" fill="#2b2b2b"/>
<circle cx="200" cy="323.3" r="4.45" fill="#2b2b2b"/>
<circle cx="216" cy="341.7" r="4.45" fill="#2b2b2b"/>
<circle cx="230.7" cy="347.3" r="4.45" fill="#2b2b2b"/>
<circle cx="236" cy="357.7" r="4.45" fill="#2b2b2b"/>
<circle cx="239.3" cy="357.3" r="4.45" fill="#2b2b2b"/>
<circle cx="210" cy="364" r="4.45" fill="#2b2b2b"/>
<circle cx="205" cy="367.3" r="4.45" fill="#2b2b2b"/>
<circle cx="211.7" cy="372.7" r="4.45" fill="#2b2b2b"/>
<circle cx="225" cy="392.3" r="4.45" fill="#2b2b2b"/>
<circle cx="286.7" cy="351.7" r="4.45" fill="#2b2b2b"/>
<circle cx="284" cy="400" r="4.45" fill="#2b2b2b"/>
<circle cx="313.3" cy="345" r="4.45" fill="#2b2b2b"/>
<circle cx="325.7" cy="356.7" r="4.45" fill="#2b2b2b"/>
<circle cx="329" cy="361.7" r="4.45" fill="#2b2b2b"/>
<circle cx="326.7" cy="366" r="4.45" fill="#2b2b2b"/>
<circle cx="330.7" cy="376" r="4.45" fill="#2b2b2b"/>
<circle cx="361" cy="379" r="4.45" fill="#2b2b2b"/>
<circle cx="357.8" cy="420.8" r="4.45" fill="#2b2b2b"/>
<circle cx="389.5" cy="430.8" r="4.45" fill="#2b2b2b"/>
<circle cx="362.8" cy="444.2" r="4.45" fill="#2b2b2b"/>
<circle cx="367.3" cy="441.8" r="4.45" fill="#2b2b2b"/>
<circle cx="381.8" cy="455.8" r="4.45" fill="#2b2b2b"/>
<circle cx="355.8" cy="461.8" r="4.45" fill="#2b2b2b"/>
<circle cx="345.5" cy="475.8" r="4.45" fill="#2b2b2b"/>
<circle cx="382" cy="470.8" r="4.45" fill="#2b2b2b"/>
<circle cx="378.8" cy="474.2" r="4.45" fill="#2b2b2b"/>
<circle cx="393.7" cy="496" r="4.45" fill="#2b2b2b"/>
<circle cx="410.7" cy="496" r="4.45" fill="#2b2b2b"/>
<path d="M117.3,388.1 L121.0,391.8 L117.3,395.5 L113.6,391.8Z" fill="#2b2b2b" stroke="#222" stroke-width="0.9"/>
<path d="M134.6,340.59999999999997 L138.2,344.2 L134.6,347.8 L131.0,344.2Z" fill="#fff" stroke="#222" stroke-width="0.9"/>
<path d="M172,380.0 L175.6,383.6 L172,387.20000000000005 L168.4,383.6Z" fill="#fff" stroke="#222" stroke-width="0.9"/>
<path d="M325.5,414.2 L329.1,417.8 L325.5,421.40000000000003 L321.9,417.8Z" fill="#fff" stroke="#222" stroke-width="0.9"/>
<path d="M381.8,415.2 L385.40000000000003,418.8 L381.8,422.40000000000003 L378.2,418.8Z" fill="#fff" stroke="#222" stroke-width="0.9"/>
<path d="M396,447.9 L399.6,451.5 L396,455.1 L392.4,451.5Z" fill="#fff" stroke="#222" stroke-width="0.9"/>
<path d="M403.8,465.2 L407.40000000000003,468.8 L403.8,472.40000000000003 L400.2,468.8Z" fill="#fff" stroke="#222" stroke-width="0.9"/>
<path d="M371.5,469.9 L375.1,473.5 L371.5,477.1 L367.9,473.5Z" fill="#fff" stroke="#222" stroke-width="0.9"/>
<circle cx="350.3" cy="271.5" r="3.8" fill="#fff" stroke="#222" stroke-width="1"/>
<circle cx="350.3" cy="282.2" r="4.2" fill="#2b2b2b"/>
<path d="M350.3,288.4 L353.90000000000003,292 L350.3,295.6 L346.7,292Z" fill="#2b2b2b" stroke="#222" stroke-width="0.9"/>
<path d="M350.3,299.6 L353.7,303 L350.3,306.4 L346.90000000000003,303Z" fill="#fff" stroke="#222" stroke-width="0.9"/>
<text x="361.4" y="274.7" font-family="Liberation Sans, Arial, sans-serif" font-size="10" fill="#3a3a3a" textLength="34.2" lengthAdjust="spacing" >Control</text>
<text x="361.4" y="285.3" font-family="Liberation Sans, Arial, sans-serif" font-size="10" fill="#3a3a3a" textLength="12.3" lengthAdjust="spacing" >PD</text>
<text x="361.4" y="295.2" font-family="Liberation Sans, Arial, sans-serif" font-size="10" fill="#3a3a3a" textLength="50.8" lengthAdjust="spacing" >SC Control</text>
<text x="361.4" y="305.8" font-family="Liberation Sans, Arial, sans-serif" font-size="10" fill="#3a3a3a" textLength="26" lengthAdjust="spacing" >SCPD</text>
</g>
</svg>
</body></html>
